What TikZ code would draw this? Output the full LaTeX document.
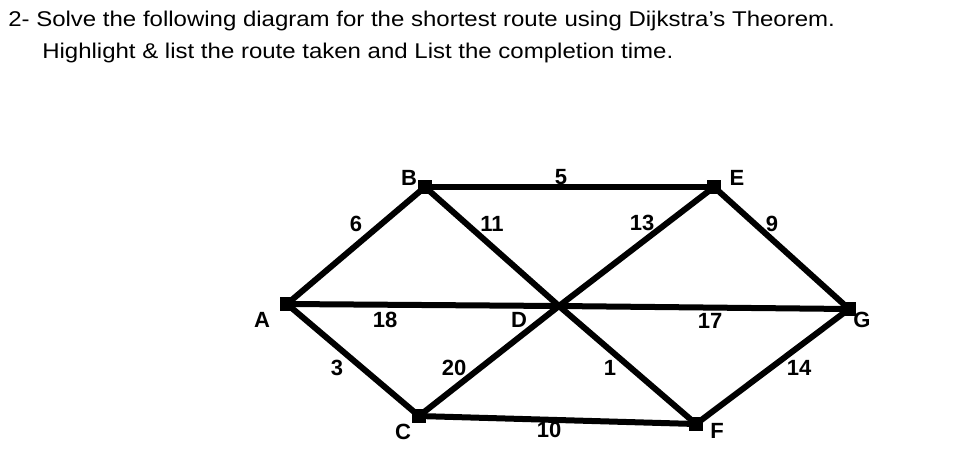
\documentclass[tikz,border=0pt]{standalone}
\usepackage{fontspec}
\setmainfont{Liberation Sans}
\tikzset{
  edge/.style={black,line width=4.5pt},
  vtx/.style={fill=black,minimum size=11pt,inner sep=0pt},
  wlabel/.style={text=black,font=\fontsize{16.5}{19}\selectfont\bfseries},
  heading/.style={anchor=base west,inner sep=0pt,xscale=1.125,font=\fontsize{16}{19}\selectfont},
}
\begin{document}
\begin{tikzpicture}[x=0.75pt,y=-0.75pt]
\useasboundingbox (0,0) rectangle (973,465);

% heading:
\node[heading] (line1) at (8,26) {2- Solve the following diagram for the shortest route using Dijkstra's Theorem.};
\node[heading] (line2) at (42,58) {Highlight \& list the route taken and List the completion time.};

% vertices:
\coordinate (A) at (287,304);
\coordinate (B) at (425,187);
\coordinate (C) at (419,416);
\coordinate (D) at (559,306);
\coordinate (E) at (714,187);
\coordinate (F) at (696,424);
\coordinate (G) at (849,309);

% edges:
\draw[edge] (A) -- (B);
\draw[edge] (A) -- (D);
\draw[edge] (A) -- (C);
\draw[edge] (B) -- (E);
\draw[edge] (B) -- (D);
\draw[edge] (E) -- (D);
\draw[edge] (E) -- (G);
\draw[edge] (D) -- (G);
\draw[edge] (C) -- (D);
\draw[edge] (C) -- (F);
\draw[edge] (D) -- (F);
\draw[edge] (F) -- (G);

\foreach \v in {A,B,C,E,F,G}
  \node[vtx] (m\v) at (\v) {};

% names and weights:
\path (262,320) node[wlabel] (lA) {A};
\path (409,178) node[wlabel] (lB) {B};
\path (403,432) node[wlabel] (lC) {C};
\path (519,320) node[wlabel] (lD) {D};
\path (737,178) node[wlabel] (lE) {E};
\path (717,431) node[wlabel] (lF) {F};
\path (862,320) node[wlabel] (lG) {G};
\path (561,177) node[wlabel] (wBE) {5};
\path (356,224) node[wlabel] (wAB) {6};
\path (492,224) node[wlabel] (wBD) {11};
\path (642,223) node[wlabel] (wDE) {13};
\path (772,224) node[wlabel] (wEG) {9};
\path (385,320) node[wlabel] (wAD) {18};
\path (710,321) node[wlabel] (wDG) {17};
\path (337,368) node[wlabel] (wAC) {3};
\path (454,368) node[wlabel] (wCD) {20};
\path (610,368) node[wlabel] (wDF) {1};
\path (799,368) node[wlabel] (wFG) {14};
\path (549,430) node[wlabel] (wCF) {10};

\end{tikzpicture}
\end{document}
